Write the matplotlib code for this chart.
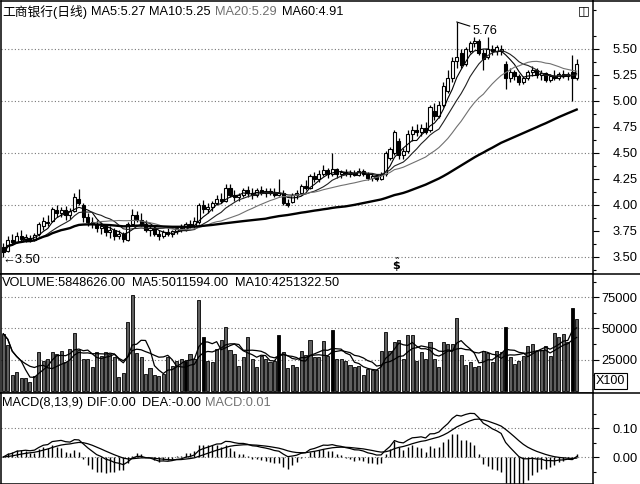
import numpy as np
import pandas as pd
import matplotlib
matplotlib.use("Agg")
import matplotlib.pyplot as plt
from matplotlib.ticker import FixedLocator, FixedFormatter
from matplotlib.lines import Line2D

plt.rcParams['font.family'] = ['Liberation Sans', 'Noto Sans CJK SC', 'DejaVu Sans']

# ---------------- data ----------------
opens = [3.60, 3.56, 3.66, 3.64, 3.70, 3.67, 3.68, 3.66, 3.72, 3.80,
         3.84, 3.85, 3.95, 3.92, 3.95, 3.90, 3.94, 4.06, 4.00, 3.88,
         3.84, 3.82, 3.78, 3.80, 3.74, 3.76, 3.70, 3.72, 3.66, 3.82,
         3.90, 3.86, 3.82, 3.76, 3.78, 3.72, 3.70, 3.74, 3.72, 3.75,
         3.78, 3.76, 3.82, 3.80, 3.84, 4.00, 3.96, 3.98, 4.02, 4.06,
         4.04, 4.16, 4.10, 4.08, 4.10, 4.14, 4.12, 4.10, 4.14, 4.12,
         4.13, 4.12, 4.10, 4.12, 4.02, 4.03, 4.10, 4.12, 4.18, 4.16,
         4.28, 4.25, 4.30, 4.34, 4.30, 4.35, 4.30, 4.32, 4.30, 4.31,
         4.29, 4.33, 4.30, 4.26, 4.28, 4.25, 4.30, 4.45, 4.50, 4.62,
         4.48, 4.52, 4.68, 4.72, 4.70, 4.74, 4.72, 4.90, 4.86, 4.96,
         5.10, 5.22, 5.38, 5.46, 5.36, 5.48, 5.56, 5.58, 5.46, 5.42,
         5.50, 5.48, 5.48, 5.36, 5.22, 5.28, 5.24, 5.18, 5.22, 5.28,
         5.30, 5.25, 5.27, 5.20, 5.24, 5.22, 5.26, 5.24, 5.28, 5.22]
highs = [3.63, 3.70, 3.72, 3.74, 3.76, 3.72, 3.71, 3.73, 3.84, 3.88,
         3.90, 3.98, 4.00, 3.98, 3.99, 3.97, 4.12, 4.15, 4.02, 3.92,
         3.88, 3.86, 3.84, 3.82, 3.80, 3.78, 3.76, 3.74, 3.84, 3.96,
         3.94, 3.92, 3.86, 3.80, 3.80, 3.76, 3.76, 3.78, 3.76, 3.80,
         3.82, 3.84, 3.86, 3.88, 4.02, 4.05, 4.02, 4.04, 4.10, 4.12,
         4.20, 4.20, 4.14, 4.12, 4.16, 4.18, 4.16, 4.16, 4.18, 4.16,
         4.16, 4.16, 4.25, 4.14, 4.06, 4.12, 4.14, 4.20, 4.24, 4.30,
         4.32, 4.34, 4.38, 4.36, 4.50, 4.36, 4.34, 4.35, 4.34, 4.34,
         4.36, 4.35, 4.32, 4.30, 4.30, 4.32, 4.52, 4.56, 4.72, 4.64,
         4.55, 4.72, 4.76, 4.78, 4.78, 4.80, 4.96, 4.98, 5.00, 5.18,
         5.30, 5.42, 5.76, 5.50, 5.52, 5.58, 5.62, 5.60, 5.50, 5.62,
         5.54, 5.54, 5.54, 5.38, 5.32, 5.30, 5.26, 5.24, 5.30, 5.34,
         5.32, 5.30, 5.28, 5.26, 5.30, 5.28, 5.30, 5.28, 5.44, 5.40]
lows = [3.50, 3.55, 3.62, 3.63, 3.65, 3.64, 3.64, 3.65, 3.70, 3.76,
        3.80, 3.84, 3.88, 3.88, 3.86, 3.87, 3.93, 4.00, 3.84, 3.80,
        3.78, 3.74, 3.72, 3.70, 3.68, 3.66, 3.67, 3.64, 3.65, 3.80,
        3.84, 3.80, 3.74, 3.70, 3.70, 3.66, 3.68, 3.70, 3.69, 3.72,
        3.74, 3.75, 3.78, 3.78, 3.82, 3.92, 3.92, 3.94, 4.00, 4.02,
        4.03, 4.08, 4.04, 4.04, 4.08, 4.08, 4.06, 4.08, 4.10, 4.08,
        4.10, 4.08, 4.09, 4.00, 3.98, 4.02, 4.06, 4.10, 4.14, 4.15,
        4.22, 4.22, 4.28, 4.26, 4.28, 4.26, 4.26, 4.28, 4.27, 4.28,
        4.28, 4.28, 4.24, 4.23, 4.23, 4.24, 4.28, 4.43, 4.48, 4.44,
        4.44, 4.50, 4.62, 4.66, 4.66, 4.68, 4.70, 4.82, 4.84, 4.94,
        5.08, 5.18, 5.32, 5.32, 5.34, 5.46, 5.52, 5.44, 5.30, 5.40,
        5.44, 5.44, 5.44, 5.12, 5.18, 5.20, 5.15, 5.16, 5.20, 5.24,
        5.22, 5.20, 5.18, 5.18, 5.20, 5.20, 5.22, 5.20, 5.00, 5.20]
closes = [3.55, 3.66, 3.64, 3.70, 3.67, 3.69, 3.66, 3.71, 3.82, 3.85,
          3.83, 3.96, 3.92, 3.95, 3.90, 3.94, 4.08, 4.02, 3.88, 3.84,
          3.82, 3.78, 3.80, 3.74, 3.76, 3.70, 3.72, 3.67, 3.82, 3.90,
          3.86, 3.82, 3.76, 3.78, 3.72, 3.70, 3.74, 3.72, 3.75, 3.78,
          3.76, 3.82, 3.80, 3.85, 4.00, 3.96, 3.98, 4.02, 4.06, 4.04,
          4.16, 4.10, 4.08, 4.10, 4.14, 4.12, 4.10, 4.14, 4.12, 4.13,
          4.12, 4.10, 4.12, 4.02, 4.00, 4.10, 4.12, 4.18, 4.16, 4.28,
          4.25, 4.30, 4.34, 4.30, 4.35, 4.30, 4.32, 4.30, 4.31, 4.29,
          4.33, 4.30, 4.26, 4.28, 4.25, 4.30, 4.50, 4.54, 4.70, 4.48,
          4.52, 4.68, 4.72, 4.70, 4.74, 4.70, 4.94, 4.86, 4.96, 5.14,
          5.22, 5.38, 5.42, 5.35, 5.50, 5.56, 5.58, 5.46, 5.40, 5.50,
          5.48, 5.52, 5.50, 5.22, 5.28, 5.24, 5.18, 5.22, 5.28, 5.30,
          5.25, 5.27, 5.20, 5.24, 5.22, 5.26, 5.24, 5.26, 5.22, 5.36]
volumes = [45700, 37100, 12900, 14800, 10200, 10200, 7300, 12100, 30900, 24200,
           25500, 30900, 29600, 32300, 22800, 33600, 46200, 32800, 25500, 25500,
           18800, 31500, 28200, 30900, 29600, 26900, 11300, 14000, 55100, 76600,
           30100, 26900, 13400, 18000, 12900, 12100, 13400, 26900, 20200, 23700,
           25500, 24200, 29600, 25500, 73100, 43500, 24200, 22800, 33600, 40900,
           51100, 32800, 29600, 20200, 26900, 43000, 25500, 19400, 28200, 25500,
           22800, 24200, 44400, 30900, 18300, 20700, 19400, 32300, 29000, 40900,
           26900, 26900, 39800, 28200, 48400, 25500, 25500, 24200, 21000, 18800,
           20200, 12900, 17500, 16700, 16900, 32300, 47000, 32300, 39000, 40900,
           25500, 44400, 44400, 23700, 30900, 25500, 39000, 25500, 18800, 39000,
           37600, 37600, 58300, 29000, 21000, 22800, 19400, 20200, 32300, 30100,
           22800, 32300, 30900, 51100, 26900, 21500, 24200, 28200, 36300, 37600,
           32300, 32800, 36300, 28200, 46200, 43000, 45700, 39000, 66700, 57800]
black_volume_bars = [41, 45, 62, 74, 113, 128]

price_ticks = [3.50, 3.75, 4.00, 4.25, 4.50, 4.75, 5.00, 5.25, 5.50]
price_grid = [3.50, 4.00, 4.50, 5.00, 5.50]
vol_ticks = [25000, 50000, 75000]
macd_ticks = [0.00, 0.10]

main_title = [("工商银行(日线)", 2, 'black'), ("MA5:5.27", 91, 'black'),
              ("MA10:5.25", 149, 'black'), ("MA20:5.29", 215, '#707070'),
              ("MA60:4.91", 282, 'black')]
vol_title = [("VOLUME:5848626.00", 2, 'black'), ("MA5:5011594.00", 132, 'black'),
             ("MA10:4251322.50", 235, 'black')]
macd_title = [("MACD(8,13,9)", 2, 'black'), ("DIF:0.00", 87, 'black'),
              ("DEA:-0.00", 142, 'black'), ("MACD:0.01", 205, '#707070')]

# ---------------- derived series ----------------
o = np.array(opens); h = np.array(highs); l = np.array(lows); c = np.array(closes)
idx = np.arange(len(c))
cs = pd.Series(c)
ma5 = cs.rolling(5, min_periods=1).mean()
ma10 = cs.rolling(10, min_periods=1).mean()
ma20 = cs.rolling(20, min_periods=1).mean()
ma60 = cs.rolling(60, min_periods=1).mean()
vs = pd.Series(volumes, dtype=float)
vma5 = vs.rolling(5, min_periods=1).mean()
vma10 = vs.rolling(10, min_periods=1).mean()
dif = cs.ewm(span=8, adjust=False).mean() - cs.ewm(span=13, adjust=False).mean()
dea = dif.ewm(span=9, adjust=False).mean()
macd = 2 * (dif - dea)

# ---------------- layout ----------------
W, H = 640, 484
fig = plt.figure(figsize=(6.4, 4.84), dpi=100)
fig.patch.set_facecolor('white')

def fx(px):
    return px / W

def fy(py):
    return 1 - py / H

XL, XR = 1, 593
def add_panel(ytop, ybot):
    return fig.add_axes([fx(XL), fy(ybot), fx(XR) - fx(XL), fy(ytop) - fy(ybot)])

ax1 = add_panel(1, 274)
ax2 = add_panel(274, 393)
ax3 = add_panel(393, 484)

xlim = (-0.52, 132.67)
for ax in (ax1, ax2, ax3):
    ax.set_xlim(*xlim)
    ax.set_facecolor('white')
    for s in ax.spines.values():
        s.set_color('black'); s.set_linewidth(1.1)
    ax.yaxis.tick_right()
    ax.tick_params(axis='x', bottom=False, labelbottom=False)
    ax.tick_params(axis='y', which='major', direction='out', length=4, width=0.8,
                   pad=28, labelsize=9.3, colors='black')
    ax.tick_params(axis='y', which='minor', direction='out', length=2, width=0.8)

# ---- main price panel ----
ax1.set_ylim(3.3365, 5.9615)
ax1.hlines(price_grid, *xlim, colors='#777777', linestyles=(0, (1, 2)), linewidth=0.8, zorder=1)
ax1.vlines(idx, l, h, color='black', linewidth=0.9, zorder=2)
body_bottom = np.minimum(o, c)
body_h = np.maximum(np.abs(c - o), 0.006)
ax1.bar(idx, body_h, bottom=body_bottom, width=0.68,
        color=['white' if cc >= oo else 'black' for oo, cc in zip(o, c)],
        edgecolor='black', linewidth=0.8, zorder=3)
ax1.plot(idx, ma5, color='black', linewidth=0.8, zorder=4)
ax1.plot(idx, ma10, color='#202020', linewidth=0.8, zorder=4)
ax1.plot(idx, ma20, color='#707070', linewidth=0.8, zorder=4)
ax1.plot(idx, ma60, color='black', linewidth=1.7, zorder=4)
ax1.yaxis.set_major_locator(FixedLocator(price_ticks))
ax1.yaxis.set_major_formatter(FixedFormatter([f"{v:.2f}" for v in price_ticks]))
ax1.yaxis.set_minor_locator(FixedLocator(np.arange(3.375, 5.9, 0.25)))

imax = int(np.argmax(h))
ax1.annotate(f"{h[imax]:.2f}", xy=(imax, h[imax]), xytext=(16, -9),
             textcoords='offset pixels', fontsize=9.3, va='center', ha='left',
             arrowprops=dict(arrowstyle='-', color='black', lw=0.8, shrinkA=0, shrinkB=0))
imin = int(np.argmin(l))
ax1.annotate(f"\u2190{l[imin]:.2f}", xy=(imin, l[imin]), xytext=(-1, -3),
             textcoords='offset pixels', fontsize=9.3, va='center', ha='left')

# ---- volume panel ----
ax2.set_ylim(-1600, 93550)
ax2.hlines(vol_ticks, *xlim, colors='#777777', linestyles=(0, (1, 2)), linewidth=0.8, zorder=1)
ax2.bar(idx, volumes, width=0.68,
        color=['black' if i in black_volume_bars else '#606060' for i in idx],
        edgecolor='black', linewidth=0.6, zorder=2)
ax2.plot(idx, vma5, color='black', linewidth=0.9, zorder=3)
ax2.plot(idx, vma10, color='black', linewidth=0.9, zorder=3)
ax2.yaxis.set_major_locator(FixedLocator(vol_ticks))
ax2.yaxis.set_major_formatter(FixedFormatter([f"{v:d}" for v in vol_ticks]))
ax2.yaxis.set_minor_locator(FixedLocator([12500, 37500, 62500, 87500]))

# ---- MACD panel ----
ax3.set_ylim(-0.0931, 0.2207)
ax3.hlines(macd_ticks, *xlim, colors='#777777', linestyles=(0, (1, 2)), linewidth=0.8, zorder=1)
ax3.vlines(idx, 0, macd, color='black', linewidth=1.0, zorder=2)
ax3.plot(idx, dif, color='black', linewidth=0.9, zorder=3)
ax3.plot(idx, dea, color='black', linewidth=0.9, zorder=3)
ax3.yaxis.set_major_locator(FixedLocator(macd_ticks))
ax3.yaxis.set_major_formatter(FixedFormatter([f"{v:.2f}" for v in macd_ticks]))
ax3.yaxis.set_minor_locator(FixedLocator([-0.05, 0.05, 0.15]))

for ax in (ax1, ax2, ax3):
    for lbl in ax.get_yticklabels():
        lbl.set_horizontalalignment('right')

# ---- titles ----
for items, ypx in ((main_title, 12), (vol_title, 283), (macd_title, 403)):
    for txt, xpx, col in items:
        fig.text(fx(xpx), fy(ypx), txt, fontsize=9.2, color=col, ha='left', va='center')

# ---- frame lines across the label column ----
for ypx in (0.8, 274, 393):
    fig.add_artist(Line2D([fx(XR), 1], [fy(ypx), fy(ypx)], color='black', linewidth=1.1))

fig.text(fx(596), fy(381), "X100", fontsize=9.0, ha='left', va='center',
         bbox=dict(boxstyle='square,pad=0.15', fc='white', ec='black', lw=0.8))
fig.text(fx(584), fy(11), "\u25eb", fontsize=9, ha='center', va='center',
         family=['DejaVu Sans'])
fig.text(fx(397), fy(265), r"$\hat{\mathbf{\$}}$", fontsize=8, ha='center', va='center')

fig.savefig("out.png", dpi=100, facecolor='white')
